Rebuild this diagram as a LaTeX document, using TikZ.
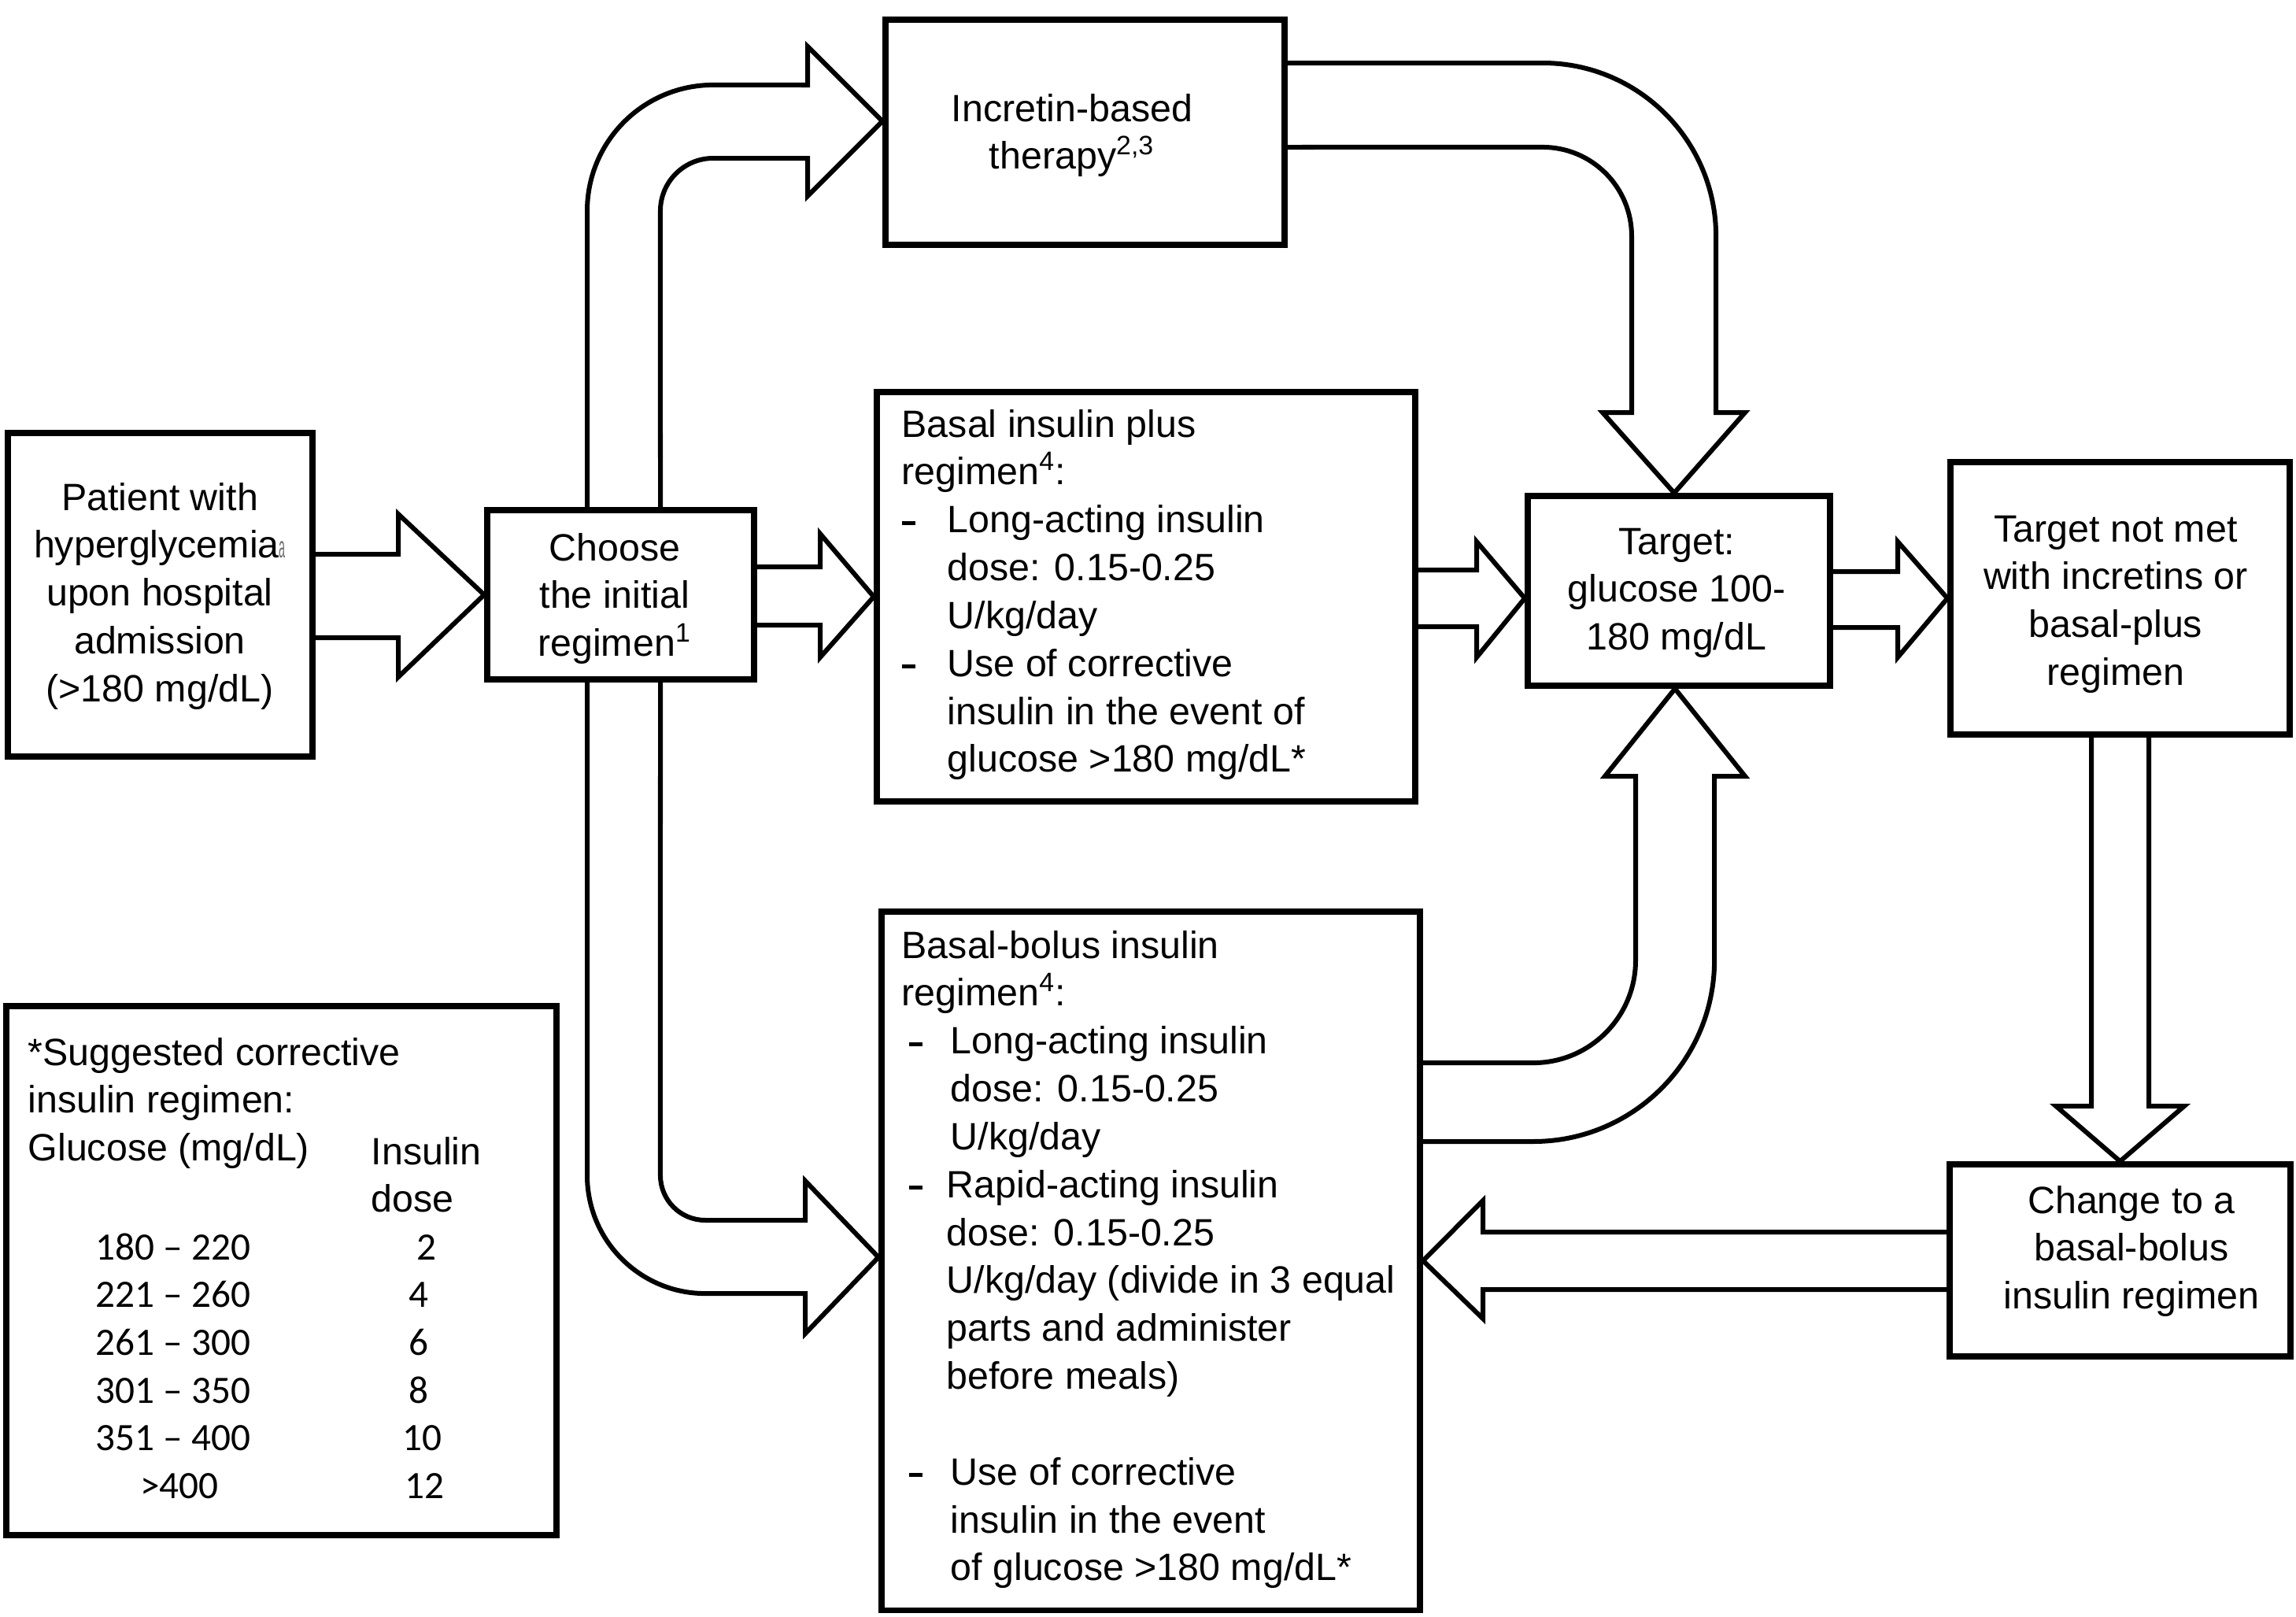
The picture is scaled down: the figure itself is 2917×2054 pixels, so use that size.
\documentclass[tikz,border=0pt]{standalone}
\usepackage{fontspec}
\setmainfont{Liberation Sans}
\newfontfamily\calib{Carlito}
\usepackage{graphicx}
\usetikzlibrary{calc}

\newcommand{\Lc}[1]{\hbox to 0pt{\hss #1\hss}}
\newcommand{\Ll}[1]{\hbox{#1}}
\newcommand{\Dsh}{\rule[0.1cm]{0.17cm}{0.05cm}}
\newcommand{\Bl}[3]{\hbox{\makebox[#2][l]{\hspace*{#1}\Dsh}#3}}
\newcommand{\In}[2]{\hbox{\hspace*{#1}#2}}

\begin{document}
\begin{tikzpicture}[x=0.01cm, y=-0.01cm,
  box/.style={draw, line width=0.075cm, inner sep=0pt},
  blk/.style={draw, line width=0.06cm, line join=miter},
  txt/.style={inner sep=0pt, anchor=base, font=\fontsize{13.75pt}{17.3pt}\selectfont},
  ltxt/.style={inner sep=0pt, anchor=base west, font=\fontsize{13.75pt}{17.3pt}\selectfont},
  ntxt/.style={inner sep=0pt, anchor=base, font=\calib\fontsize{14pt}{17.25pt}\selectfont}]

\useasboundingbox (0,0) rectangle (2917,2054);

% boxes
\node[box, minimum width=3.87cm, minimum height=4.11cm] (patient) at (203.5,755.5) {};
\node[box, minimum width=3.39cm, minimum height=2.15cm] (choose) at (788.5,755.5) {};
\node[box, minimum width=5.07cm, minimum height=2.86cm] (incretin) at (1378.5,168) {};
\node[box, minimum width=6.84cm, minimum height=5.20cm] (basalplus) at (1456,758) {};
\node[box, minimum width=3.84cm, minimum height=2.41cm] (target) at (2133,750.5) {};
\node[box, minimum width=4.31cm, minimum height=3.46cm] (notmet) at (2693.5,760) {};
\node[box, minimum width=4.33cm, minimum height=2.44cm] (change) at (2693.5,1601) {};
\node[box, minimum width=6.84cm, minimum height=8.87cm] (bolus) at (1462,1601.5) {};
\node[box, minimum width=6.99cm, minimum height=6.72cm] (table) at (357.5,1614) {};

% texts
\node[txt] (tpatient) at (203,648) {\vtop{\Lc{Patient with}\Lc{hyperglycemia\textcolor{black!55}{\scalebox{0.3}[0.8]{a}}}\Lc{upon hospital}\Lc{admission}\Lc{(>180 mg/dL)}}};
\node[txt] (tchoose) at (781,712) {\vtop{\Lc{Choose}\Lc{the initial}\Lc{regimen\textsuperscript{1}}}};
\node[txt] (tincretin) at (1362,154) {\vtop{\Lc{Incretin-based}\Lc{therapy\textsuperscript{2,3}}}};
\node[txt] (ttarget) at (2130,704) {\vtop{\Lc{Target:}\Lc{glucose 100-}\Lc{180 mg/dL}}};
\node[txt] (tnotmet) at (2688,688) {\vtop{\Lc{Target not met}\Lc{with incretins or}\Lc{basal-plus}\Lc{regimen}}};
\node[txt] (tchange) at (2708,1541) {\vtop{\Lc{Change to a}\Lc{basal-bolus}\Lc{insulin regimen}}};

\node[ltxt] (tbasalplus) at (1145,555) {\vtop{%
  \Ll{Basal insulin plus}
  \Ll{regimen\textsuperscript{4}:}
  \Bl{0cm}{0.58cm}{Long-acting insulin}
  \In{0.58cm}{dose: 0.15-0.25}
  \In{0.58cm}{U/kg/day}
  \Bl{0cm}{0.58cm}{Use of corrective}
  \In{0.58cm}{insulin in the event of}
  \In{0.58cm}{glucose >180 mg/dL*}}};

\node[ltxt] (tbolus) at (1145,1217) {\vtop{%
  \Ll{Basal-bolus insulin}
  \Ll{regimen\textsuperscript{4}:}
  \Bl{0.09cm}{0.62cm}{Long-acting insulin}
  \In{0.62cm}{dose: 0.15-0.25}
  \In{0.62cm}{U/kg/day}
  \Bl{0.09cm}{0.57cm}{Rapid-acting insulin}
  \In{0.57cm}{dose: 0.15-0.25}
  \In{0.57cm}{U/kg/day (divide in 3 equal}
  \In{0.57cm}{parts and administer}
  \In{0.57cm}{before meals)}
  \Ll{}
  \Bl{0.09cm}{0.62cm}{Use of corrective}
  \In{0.62cm}{insulin in the event}
  \In{0.62cm}{of glucose >180 mg/dL*}}};

\node[ltxt] (ttable) at (35,1353) {\vtop{\Ll{*Suggested corrective}\Ll{insulin regimen:}\Ll{Glucose (mg/dL)}}};
\node[ltxt] (tdosehead) at (471,1479) {\vtop{\Ll{Insulin}\Ll{dose}}};
\node[ntxt] (tranges) at (220,1600) {\vtop{\Lc{180 – 220}\Lc{221 – 260}\Lc{261 – 300}\Lc{301 – 350}\Lc{351 – 400}\Lc{\hspace*{0.16cm}>400}}};
\node[ntxt] (tdoses) at (532,1600) {\vtop{\Lc{\hspace*{0.2cm}2}\Lc{4}\Lc{6}\Lc{8}\Lc{\hspace*{0.08cm}10}\Lc{\hspace*{0.14cm}12}}};

% block arrows
\draw[blk] ($(patient.east)+(0,-51.5)$) -- (506,704) -- (506,653) -- (choose.west) -- (506,860) -- (506,810) -- ($(patient.east)+(0,54.5)$);
\draw[blk] ($(choose.east)+(0,-35.5)$) -- (1042,720) -- (1042,678) -- (basalplus.west) -- (1042,835) -- (1042,794) -- ($(choose.east)+(0,38.5)$);
\draw[blk] ($(basalplus.east)+(0,-34)$) -- (1876,724) -- (1876,688) -- ($(target.west)+(0,9.5)$) -- (1876,835) -- (1876,796) -- ($(basalplus.east)+(0,38)$);
\draw[blk] ($(target.east)+(0,-24.5)$) -- (2411,726) -- (2411,688) -- (notmet.west) -- (2411,835) -- (2411,797) -- ($(target.east)+(0,46.5)$);
\draw[blk] ($(notmet.south)+(-36.5,0)$) -- (2657,1405) -- (2612,1405) -- (change.north) -- (2775,1405) -- (2730,1405) -- ($(notmet.south)+(36.5,0)$);
\draw[blk] ($(change.west)+(0,-36)$) -- (1884,1565) -- (1884,1525) -- (bolus.east) -- (1884,1675) -- (1884,1638) -- ($(change.west)+(0,37)$);

\draw[blk] ($(choose.north)+(-42.5,0)$) -- (746,268) arc[start angle=180, end angle=90, radius=1.6cm] -- (1026,108) -- (1026,59) -- ($(incretin.west)+(0,-14)$) -- (1026,249) -- (1026,201) -- (906,201) arc[start angle=90, end angle=180, radius=0.67cm] -- ($(choose.north)+(50.5,0)$);

\draw[blk] ($(choose.south)+(-42.5,0)$) -- (746,1493) arc[start angle=180, end angle=270, radius=1.5cm] -- (1023,1643) -- (1023,1694) -- ($(bolus.west)+(0,-4.5)$) -- (1023,1500) -- (1023,1550) -- (896,1550) arc[start angle=270, end angle=180, radius=0.57cm] -- ($(choose.south)+(50.5,0)$);

\draw[blk] ($(incretin.east)+(0,-88)$) -- (1960,80) arc[start angle=90, end angle=0, radius=2.2cm] -- (2180,524) -- (2217,524) -- ($(target.north)+(-6,0)$) -- (2036,524) -- (2073,524) -- (2073,300) arc[start angle=0, end angle=90, radius=1.13cm] -- ($(incretin.east)+(0,19)$);

\draw[blk] ($(bolus.east)+(0,-151.5)$) -- (1948,1450) arc[start angle=270, end angle=360, radius=2.3cm] -- (2178,986) -- (2217,986) -- ($(target.south)+(-5,0)$) -- (2039,986) -- (2078,986) -- (2078,1220) arc[start angle=0, end angle=-90, radius=1.3cm] -- ($(bolus.east)+(0,-251.5)$);

\end{tikzpicture}
\end{document}
